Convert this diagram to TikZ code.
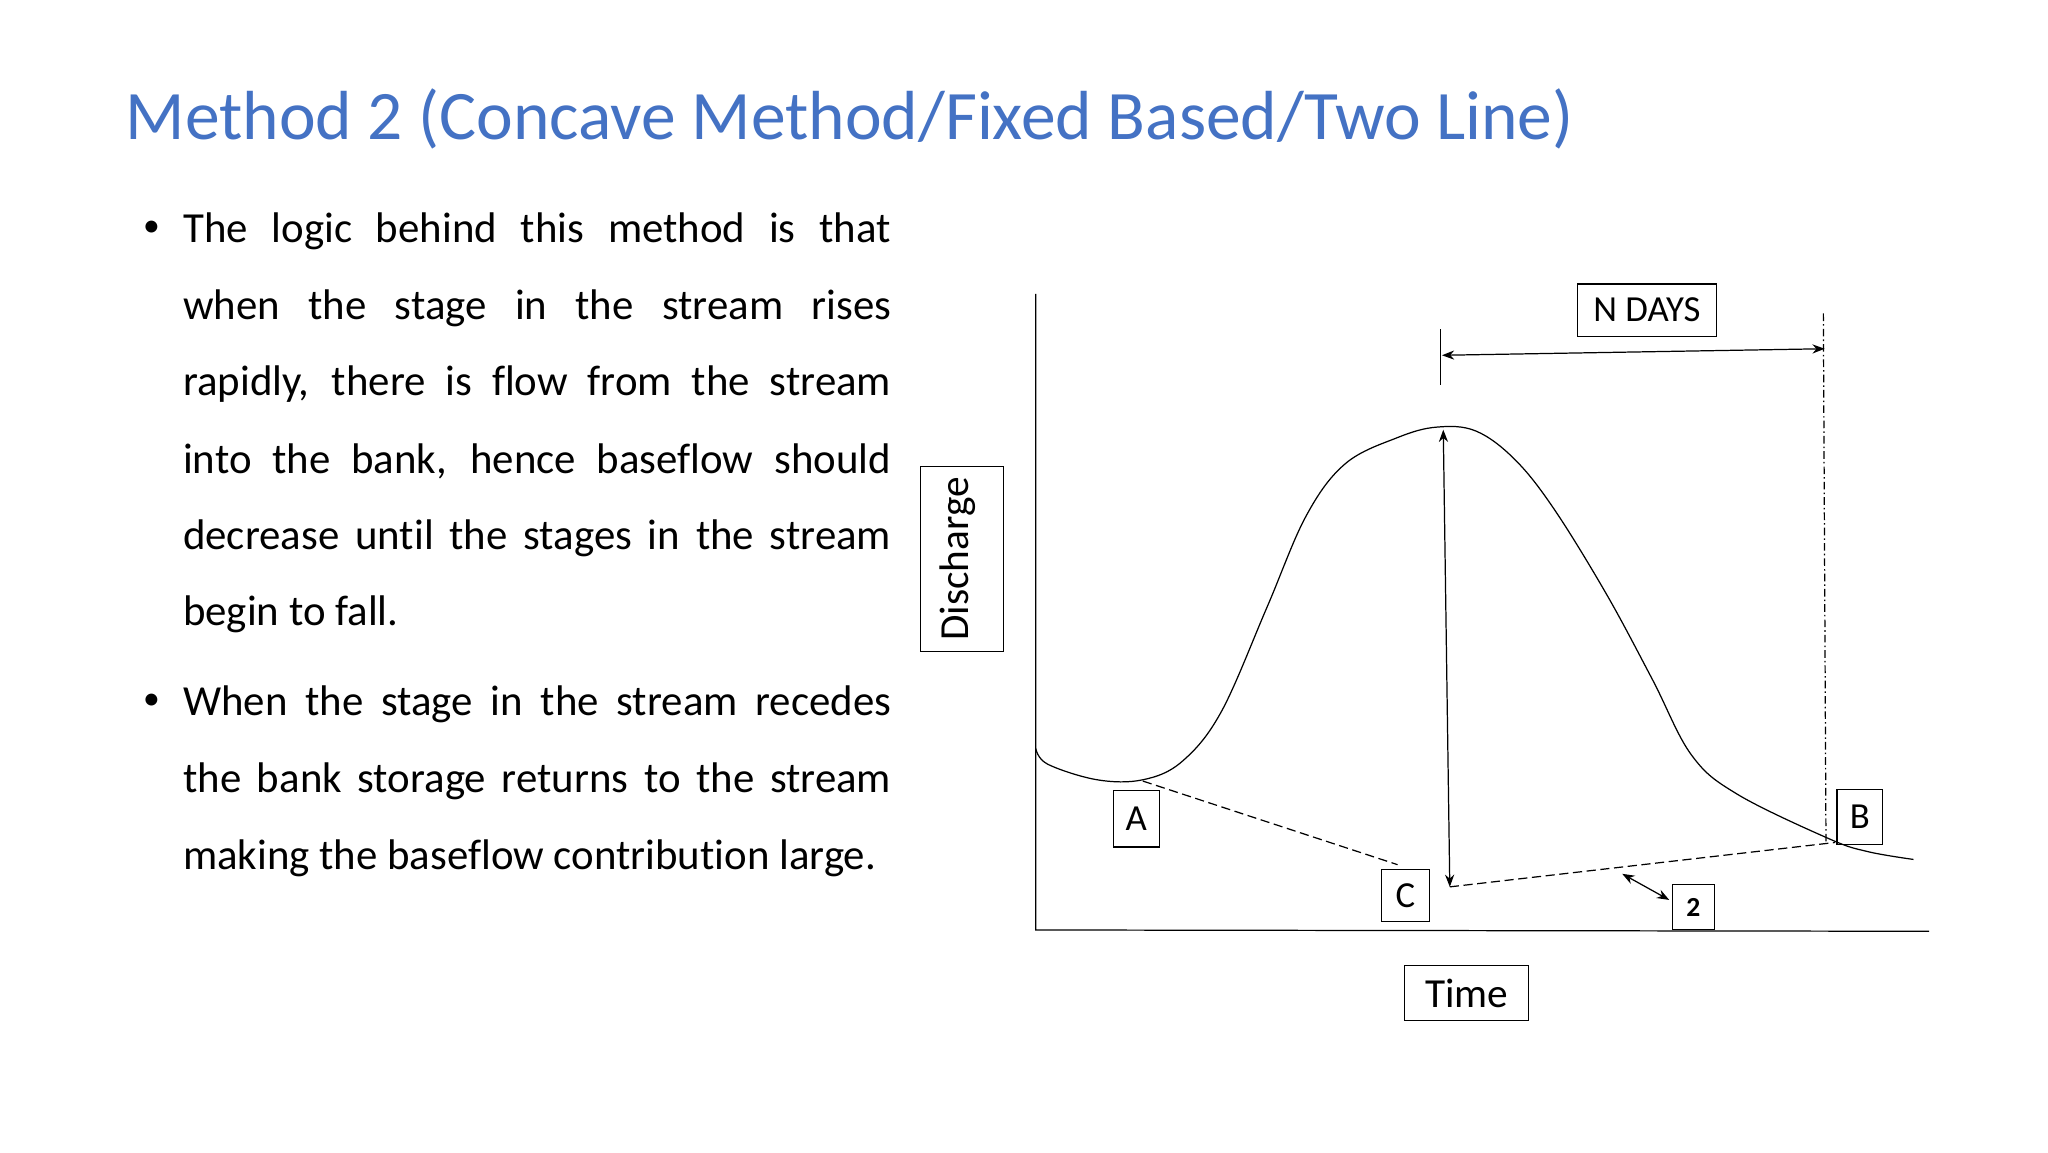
\documentclass[tikz,border=0pt]{standalone}
\usepackage{fontspec}
\setmainfont[RawFeature={-liga}]{Carlito}
\usetikzlibrary{arrows.meta}
\definecolor{ttl}{HTML}{4472C4}
\begin{document}
\begin{tikzpicture}[x=0.03cm,y=-0.03cm,
  lbl/.style={draw,line width=0.8pt,inner sep=0pt,anchor=north west,font=\fontsize{24}{24}\selectfont},
  ln/.style={line width=0.8pt},
  dsh/.style={line width=0.8pt,dash pattern=on 6pt off 3pt},
  body/.style={anchor=west,inner sep=0pt,font=\fontsize{28}{28}\selectfont},
  bul/.style={anchor=center,inner sep=0pt,font=\fontsize{22}{22}\selectfont}]
\useasboundingbox[fill=white] (0,0) rectangle (1568,882);
\node[anchor=west,text=ttl,font=\fontsize{45.4}{45}\selectfont,inner sep=0pt] (title) at (96,91) {Method 2 (Concave Method/Fixed Based/Two Line)};
\node[bul] (b1) at (116,175) {\textbullet};
\node[body] (l1) at (140,177) {\makebox[16.26cm][s]{The logic behind this method is that}};
\node[body] (l2) at (140,236) {\makebox[16.26cm][s]{when the stage in the stream rises}};
\node[body] (l3) at (140,294) {\makebox[16.26cm][s]{rapidly, there is flow from the stream}};
\node[body] (l4) at (140,353) {\makebox[16.26cm][s]{into the bank, hence baseflow should}};
\node[body] (l5) at (140,412) {\makebox[16.26cm][s]{decrease until the stages in the stream}};
\node[body] (l6) at (140,470) {begin to fall.};
\node[bul] (b2) at (116,537) {\textbullet};
\node[body] (m1) at (140,539) {\makebox[16.26cm][s]{When the stage in the stream recedes}};
\node[body] (m2) at (140,598) {\makebox[16.26cm][s]{the bank storage returns to the stream}};
\node[body] (m3) at (140,657) {making the baseflow contribution large.};
% axes
\coordinate (o) at (793,712);
\coordinate (ytop) at (793,225);
\coordinate (xend) at (1477,713);
\draw[ln] (ytop) -- (o) -- (xend);
% hydrograph
\draw[ln] plot[smooth,tension=0.6] coordinates {(793,573) (802,585) (840,597) (875,597) (905,583) (935,545) (970,465) (1000,395) (1030,355) (1070,335) (1100,327) (1130,330) (1160,352) (1190,390) (1230,455) (1265,520) (1295,578) (1330,608) (1400,642) (1430,652) (1465,658)};
\coordinate (pa) at (875,598);
\coordinate (pc) at (1110,679);
\coordinate (pb) at (1405,645);
\coordinate (pk) at (1105,329);
\draw[dsh] (pa) -- (1070,662);
\draw[dsh] (pc) -- (pb);
\draw[ln,{Stealth[length=8pt,width=6pt]}-{Stealth[length=8pt,width=6pt]}] (pc) -- (pk);
\coordinate (t1) at (1103,252); \coordinate (t2) at (1103,295);
\draw[ln] (t1) -- (t2);
\coordinate (v1) at (1396,240); \coordinate (v2) at (1398,645);
\draw[line width=0.8pt,dash pattern=on 5pt off 2pt on 1pt off 2pt] (v1) -- (v2);
\coordinate (n1) at (1104,272); \coordinate (n2) at (1397,267);
\draw[ln,{Stealth[length=8pt,width=6pt]}-{Stealth[length=8pt,width=6pt]}] (n1) -- (n2);
\coordinate (w1) at (1242,669); \coordinate (w2) at (1278,689);
\draw[ln,{Stealth[length=8pt,width=6pt]}-{Stealth[length=8pt,width=6pt]}] (w1) -- (w2);
% label boxes
\node[lbl,minimum width=3.21cm,minimum height=1.2cm] (nd) at (1207,217) {N DAYS};
\node[lbl,minimum width=1.05cm,minimum height=1.29cm] (A) at (852,605) {A};
\node[lbl,minimum width=1.11cm,minimum height=1.2cm] (C) at (1057,665) {C};
\node[lbl,minimum width=1.05cm,minimum height=1.26cm] (B) at (1406,604) {B};
\node[lbl,minimum width=0.96cm,minimum height=1.02cm,font=\bfseries\fontsize{18}{18}\selectfont] (two) at (1280,677) {2};
\node[lbl,minimum width=2.85cm,minimum height=1.26cm,font=\fontsize{27}{27}\selectfont] (time) at (1075,739) {Time};
\node[draw,line width=0.8pt,minimum width=1.89cm,minimum height=4.26cm,inner sep=0pt] (dis) at (736.5,428) {};
\node[rotate=90,font=\fontsize{27}{27}\selectfont,inner sep=0pt] (dist) at (733,428) {Discharge};
\end{tikzpicture}
\end{document}
